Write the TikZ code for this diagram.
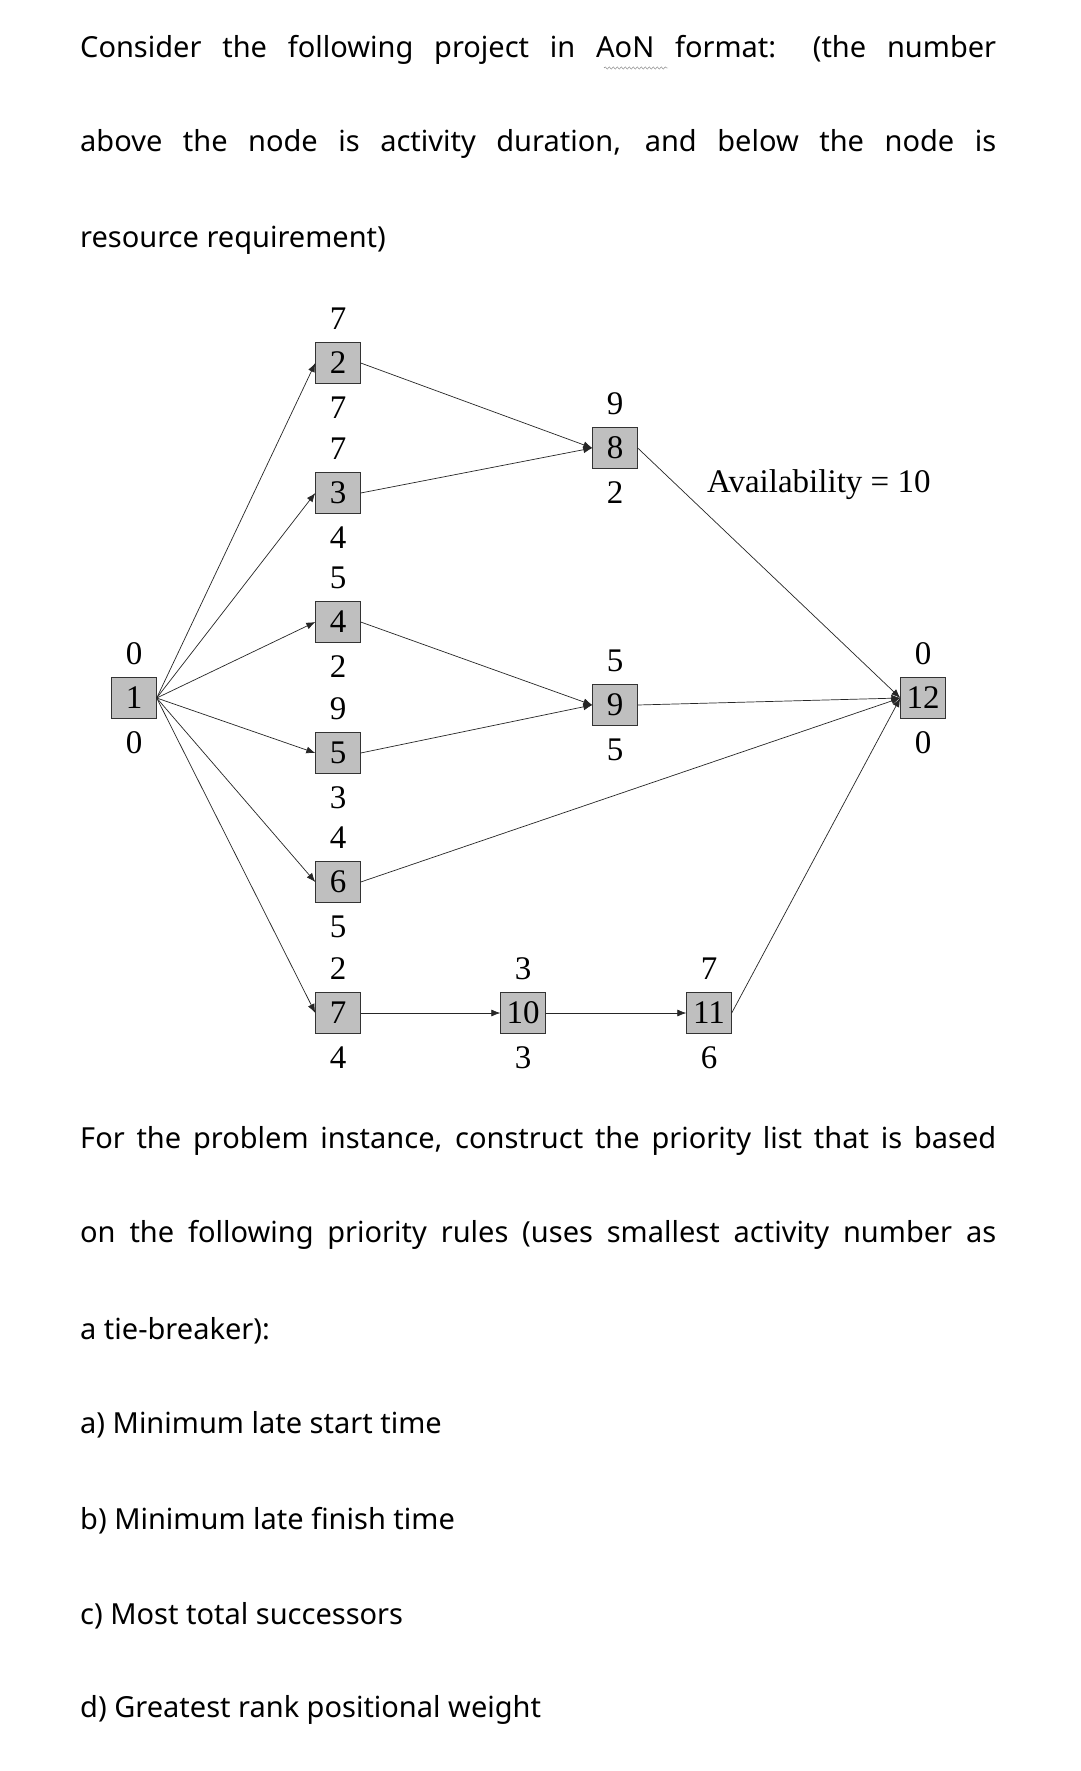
\documentclass[tikz,border=0pt]{standalone}
\usepackage{fontspec}
\setmainfont{Liberation Serif}
\newfontfamily\txt{Noto Sans}
\usetikzlibrary{arrows.meta,decorations.pathmorphing}
\begin{document}
\begin{tikzpicture}[x=1pt,y=-1pt,
  act/.style={draw=black!80,fill=black!25,minimum width=45pt,minimum height=41pt,inner sep=0pt,font=\fontsize{33}{33}\selectfont},
  num/.style={font=\fontsize{33}{33}\selectfont,inner sep=0pt},
  edge/.style={-{Latex[length=9pt,width=7pt]},draw=black!85,line width=0.7pt},
  line/.style={anchor=west,inner sep=0pt,font=\txt\fontsize{29}{29}\selectfont}]
\useasboundingbox (0,0) rectangle (1080,1771);
\fill[white] (0,0) rectangle (1080,1771);
% text
\node[line] (t1) at (80,50) {\makebox[916pt][s]{Consider the following project in AoN format: (the number}};
\node[line] (t2) at (80,144) {\makebox[916pt][s]{above the node is activity duration, and below the node is}};
\node[line] (t3) at (80,240) {resource requirement)};
\draw[black!50,decorate,decoration={snake,amplitude=1.2pt,segment length=4pt}] (604,68) -- (668,68);
% nodes
\foreach \n/\x/\y/\a/\b in {1/134/698/0/0, 2/338/363/7/7, 3/338/493/7/4, 4/338/622/5/2, 5/338/753/9/3, 6/338/882/4/5, 7/338/1013/2/4, 8/615/448/9/2, 9/615/705/5/5, 10/523/1013/3/3, 11/709/1013/7/6, 12/923/698/0/0}{
  \node[act] (n\n) at (\x,\y) {\n};
  \node[num] (a\n) at (\x,\y-44) {\a};
  \node[num] (b\n) at (\x,\y+45) {\b};
}
\node[num,anchor=west] (av) at (707,485) {Availability = 10};
\foreach \t in {2,3,4,5,6,7}{\draw[edge] (n1.east) -- (n\t.west);}
\draw[edge] (n2.east) -- (n8.west);
\draw[edge] (n3.east) -- (n8.west);
\draw[edge] (n4.east) -- (n9.west);
\draw[edge] (n5.east) -- (n9.west);
\draw[edge] (n7.east) -- (n10.west);
\draw[edge] (n10.east) -- (n11.west);
\draw[edge] (n8.east) -- (n12.west);
\draw[edge] (n9.east) -- (n12.west);
\draw[edge] (n6.east) -- (n12.west);
\draw[edge] (n11.east) -- (n12.west);
% lower text
\node[line] (u1) at (80,1141) {\makebox[916pt][s]{For the problem instance, construct the priority list that is based}};
\node[line] (u2) at (80,1235) {\makebox[916pt][s]{on the following priority rules (uses smallest activity number as}};
\node[line] (u3) at (80,1331) {a tie-breaker):};
\node[line] (u4) at (80,1425) {a) Minimum late start time};
\node[line] (u5) at (80,1521) {b) Minimum late finish time};
\node[line] (u6) at (80,1616) {c) Most total successors};
\node[line] (u7) at (80,1710) {d) Greatest rank positional weight};
\end{tikzpicture}
\end{document}
